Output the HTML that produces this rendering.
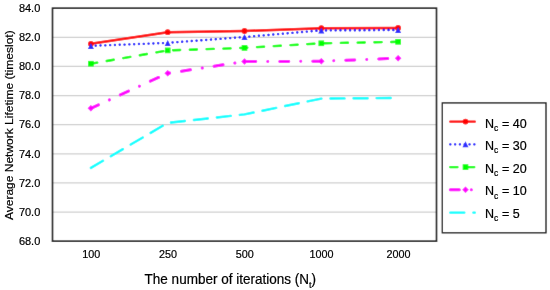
<!DOCTYPE html><html><head><meta charset="utf-8"><title>Average Network Lifetime chart</title><style>
html,body{margin:0;padding:0;background:#fff;}
svg{display:block;}
text{font-family:"Liberation Sans", Arial, sans-serif;fill:#000;stroke:#000;stroke-width:0.2px;}
</style></head><body>
<svg width="550" height="290" viewBox="0 0 550 290">
<defs><filter id="bl" x="0" y="0" width="550" height="290" filterUnits="userSpaceOnUse"><feConvolveMatrix order="3" kernelMatrix="0.01 0.05 0.01 0.05 0.76 0.05 0.01 0.05 0.01" edgeMode="duplicate"/></filter></defs>
<rect x="0" y="0" width="550" height="290" fill="#fff"/>
<g filter="url(#bl)"><rect x="0" y="0" width="550" height="290" fill="#fff"/>
<line x1="52.5" y1="37.33" x2="436.5" y2="37.33" stroke="#d0d0d0" stroke-width="1.2"/>
<line x1="52.5" y1="66.45" x2="436.5" y2="66.45" stroke="#d0d0d0" stroke-width="1.2"/>
<line x1="52.5" y1="95.58" x2="436.5" y2="95.58" stroke="#d0d0d0" stroke-width="1.2"/>
<line x1="52.5" y1="124.70" x2="436.5" y2="124.70" stroke="#d0d0d0" stroke-width="1.2"/>
<line x1="52.5" y1="153.82" x2="436.5" y2="153.82" stroke="#d0d0d0" stroke-width="1.2"/>
<line x1="52.5" y1="182.95" x2="436.5" y2="182.95" stroke="#d0d0d0" stroke-width="1.2"/>
<line x1="52.5" y1="212.07" x2="436.5" y2="212.07" stroke="#d0d0d0" stroke-width="1.2"/>
<rect x="52.5" y="8.2" width="384.0" height="233.0" fill="none" stroke="#000" stroke-width="1.6"/>
<polyline points="90.9,43.8 167.7,32.2 244.5,31.0 321.3,28.2 398.1,28.0" fill="none" stroke="#ff0000" stroke-width="2.4" stroke-linejoin="round" stroke-linecap="round" />
<circle cx="90.90" cy="43.80" r="2.9" fill="#ff0000"/>
<circle cx="167.70" cy="32.20" r="2.9" fill="#ff0000"/>
<circle cx="244.50" cy="31.00" r="2.9" fill="#ff0000"/>
<circle cx="321.30" cy="28.20" r="2.9" fill="#ff0000"/>
<circle cx="398.10" cy="28.00" r="2.9" fill="#ff0000"/>
<polyline points="90.9,45.9 167.7,42.9 244.5,37.0 321.3,30.4 398.1,30.0" fill="none" stroke="#0000ff" stroke-width="2.4" stroke-linejoin="round" stroke-linecap="round" stroke-dasharray="0.01 4.8"/>
<polygon points="90.90,42.90 93.90,48.90 87.90,48.90" fill="#2a2aff"/>
<polygon points="167.70,39.90 170.70,45.90 164.70,45.90" fill="#2a2aff"/>
<polygon points="244.50,34.00 247.50,40.00 241.50,40.00" fill="#2a2aff"/>
<polygon points="321.30,27.40 324.30,33.40 318.30,33.40" fill="#2a2aff"/>
<polygon points="398.10,27.00 401.10,33.00 395.10,33.00" fill="#2a2aff"/>
<polyline points="90.9,63.7 167.7,50.4 244.5,47.9 321.3,43.3 398.1,41.8" fill="none" stroke="#00ff00" stroke-width="2.4" stroke-linejoin="round" stroke-linecap="round" stroke-dasharray="7.1 9.7" stroke-dashoffset="0.7"/>
<rect x="88.10" y="60.90" width="5.6" height="5.6" fill="#00ff00"/>
<rect x="164.90" y="47.60" width="5.6" height="5.6" fill="#00ff00"/>
<rect x="241.70" y="45.10" width="5.6" height="5.6" fill="#00ff00"/>
<rect x="318.50" y="40.50" width="5.6" height="5.6" fill="#00ff00"/>
<rect x="395.30" y="39.00" width="5.6" height="5.6" fill="#00ff00"/>
<polyline points="90.9,108.3 167.7,73.3 244.5,61.5 321.3,61.3 398.1,58.2" fill="none" stroke="#ff00ff" stroke-width="3" stroke-linejoin="round" stroke-linecap="round" stroke-dasharray="9 12 0.01 12" stroke-dashoffset="0.7"/>
<polygon points="90.90,105.05 94.15,108.30 90.90,111.55 87.65,108.30" fill="#ff00ff"/>
<polygon points="167.70,70.05 170.95,73.30 167.70,76.55 164.45,73.30" fill="#ff00ff"/>
<polygon points="244.50,58.25 247.75,61.50 244.50,64.75 241.25,61.50" fill="#ff00ff"/>
<polygon points="321.30,58.05 324.55,61.30 321.30,64.55 318.05,61.30" fill="#ff00ff"/>
<polygon points="398.10,54.95 401.35,58.20 398.10,61.45 394.85,58.20" fill="#ff00ff"/>
<polyline points="90.9,167.9 167.7,122.9 244.5,114.4 321.3,98.6 398.1,97.9" fill="none" stroke="#00ffff" stroke-width="2.4" stroke-linejoin="round" stroke-linecap="round" stroke-dasharray="14.0 9.08"/>
<rect x="442.3" y="102.9" width="103.7" height="129.9" fill="#fff" stroke="#000" stroke-width="1.3"/>
<line x1="450.3" y1="121.6" x2="474.8" y2="121.6" stroke="#ff0000" stroke-width="2.4" stroke-linecap="round" />
<circle cx="465.50" cy="121.60" r="2.9" fill="#ff0000"/>
<line x1="450.3" y1="144.35" x2="474.8" y2="144.35" stroke="#0000ff" stroke-width="2.4" stroke-linecap="round" stroke-dasharray="0.01 4.8"/>
<polygon points="465.50,141.35 468.50,147.35 462.50,147.35" fill="#2a2aff"/>
<line x1="450.3" y1="167.1" x2="474.8" y2="167.1" stroke="#00ff00" stroke-width="2.4" stroke-linecap="round" stroke-dasharray="7.1 9.7" />
<rect x="462.70" y="164.30" width="5.6" height="5.6" fill="#00ff00"/>
<line x1="450.3" y1="189.85" x2="474.8" y2="189.85" stroke="#ff00ff" stroke-width="3" stroke-linecap="round" stroke-dasharray="9 12 0.01 12" />
<polygon points="465.50,186.60 468.75,189.85 465.50,193.10 462.25,189.85" fill="#ff00ff"/>
<line x1="450.3" y1="212.6" x2="474.8" y2="212.6" stroke="#00ffff" stroke-width="2.4" stroke-linecap="round" stroke-dasharray="14.0 9.08"/>
</g>
<text x="40.3" y="244.90" font-size="11" text-anchor="end">68.0</text>
<text x="40.3" y="215.77" font-size="11" text-anchor="end">70.0</text>
<text x="40.3" y="186.65" font-size="11" text-anchor="end">72.0</text>
<text x="40.3" y="157.52" font-size="11" text-anchor="end">74.0</text>
<text x="40.3" y="128.40" font-size="11" text-anchor="end">76.0</text>
<text x="40.3" y="99.27" font-size="11" text-anchor="end">78.0</text>
<text x="40.3" y="70.15" font-size="11" text-anchor="end">80.0</text>
<text x="40.3" y="41.02" font-size="11" text-anchor="end">82.0</text>
<text x="40.3" y="11.90" font-size="11" text-anchor="end">84.0</text>
<text x="91.2" y="258.2" font-size="10.8" text-anchor="middle">100</text>
<text x="168.0" y="258.2" font-size="10.8" text-anchor="middle">250</text>
<text x="244.8" y="258.2" font-size="10.8" text-anchor="middle">500</text>
<text x="321.6" y="258.2" font-size="10.8" text-anchor="middle">1000</text>
<text x="398.4" y="258.2" font-size="10.8" text-anchor="middle">2000</text>
<text transform="translate(144.6,283.9) scale(0.965,1)" font-size="14">The number of iterations (N<tspan font-size="9.5" dy="3.8">t</tspan><tspan dy="-3.8">)</tspan></text>
<text transform="translate(12.6,220) rotate(-90) scale(1,0.965)" font-size="12">Average Network Lifetime (timeslot)</text>
<text x="485" y="127.50" font-size="12.5">N<tspan font-size="8.5" dy="3.1">c</tspan><tspan dx="0.3" dy="-3.1"> = 40</tspan></text>
<text x="485" y="150.10" font-size="12.5">N<tspan font-size="8.5" dy="3.1">c</tspan><tspan dx="0.3" dy="-3.1"> = 30</tspan></text>
<text x="485" y="172.80" font-size="12.5">N<tspan font-size="8.5" dy="3.1">c</tspan><tspan dx="0.3" dy="-3.1"> = 20</tspan></text>
<text x="485" y="195.40" font-size="12.5">N<tspan font-size="8.5" dy="3.1">c</tspan><tspan dx="0.3" dy="-3.1"> = 10</tspan></text>
<text x="485" y="218.10" font-size="12.5">N<tspan font-size="8.5" dy="3.1">c</tspan><tspan dx="0.3" dy="-3.1"> = 5</tspan></text>
</svg></body></html>
